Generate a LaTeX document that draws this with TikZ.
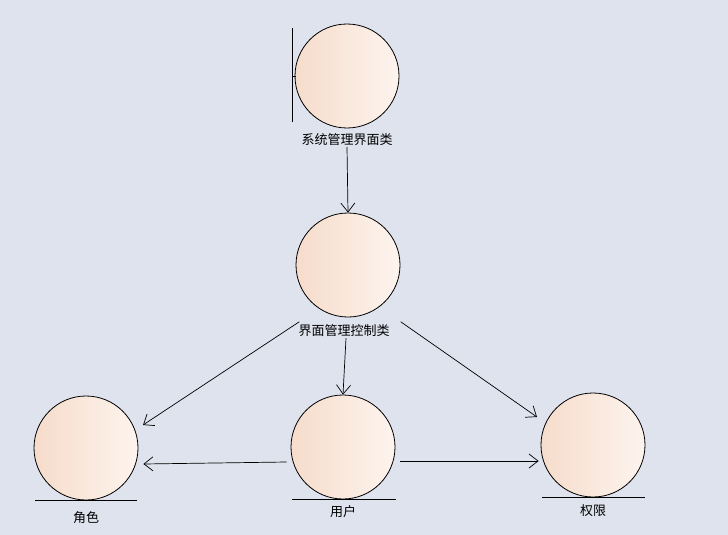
\documentclass[tikz,border=0pt]{standalone}
\usepackage{fontspec}
\setmainfont{Noto Sans CJK SC}
\usetikzlibrary{arrows.meta,calc}
\definecolor{bg}{HTML}{DFE3EE}
\definecolor{peachA}{HTML}{F6DCCB}
\definecolor{peachB}{HTML}{FDF4EE}
\tikzset{
  obj/.style={circle,draw=black,line width=0.8pt,minimum size=104pt,inner sep=0pt,left color=peachA,right color=peachB},
  lbl/.style={font=\fontsize{13pt}{15pt}\selectfont,inner sep=1pt},
  conn/.style={draw=black,line width=0.7pt,-{Straight Barb[length=9pt,width=14pt]}},
  base/.style={draw=black,line width=0.8pt}
}
\begin{document}
\begin{tikzpicture}[x=1pt,y=-1pt]
\fill[bg] (0,0) rectangle (728,535);
\useasboundingbox (0,0) rectangle (728,535);
\node[obj] (b) at (347,76) {};
\draw[base] (292,28) -- (292,122);
\draw[base] (292,76) -- (296,76);
\node[lbl] (bl) at (347,140) {系统管理界面类};
\node[obj] (c) at (348,265) {};
\node[lbl] (cl) at (344,331) {界面管理控制类};
\node[obj] (r) at (86,448) {};
\draw[base] (35,500) -- (137,500);
\node[lbl] (rl) at (86,518) {角色};
\node[obj] (u) at (343,447) {};
\draw[base] (292,499) -- (396,499);
\node[lbl] (ul) at (343,512) {用户};
\node[obj] (p) at (593,445) {};
\draw[base] (542,497) -- (645,497);
\node[lbl] (pl) at (593,511) {权限};
\draw[conn] (bl.south) -- (c.north);
\draw[conn] ($(cl.north west)+(2,-2)$) -- (143,425);
\draw[conn] ($(cl.south)+(2,0)$) -- (u.north);
\draw[conn] ($(cl.north east)+(10,-2)$) -- (537,417);
\draw[conn] ($(u.west)+(-4,15)$) -- ($(r.east)+(5,16)$);
\draw[conn] (400,461) -- ($(p.west)+(-2,16)$);
\end{tikzpicture}
\end{document}
